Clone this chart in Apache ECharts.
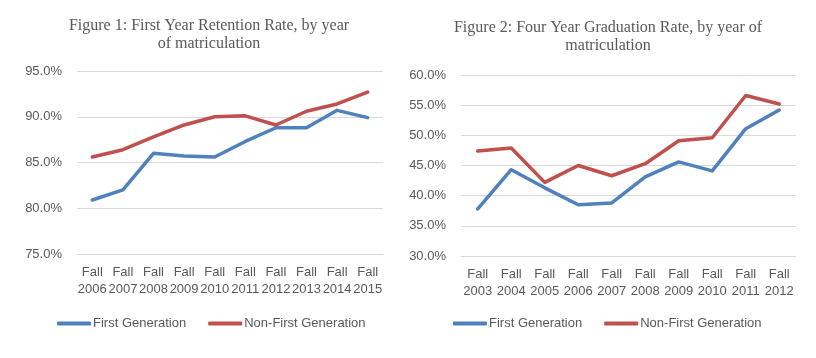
<!DOCTYPE html>
<html lang="en">
<head>
    <meta charset="UTF-8">
    <title>Retention and Graduation Rates</title>
    <script src="https://cdn.jsdelivr.net/npm/echarts@6/dist/echarts.min.js"></script>
</head>
<style>
    html, body { margin: 0; padding: 0; background: #fff; }
    #main { width: 816px; height: 358px; }
</style>
<body>
<div id="main"></div>
<script>
    var myChart = echarts.init(document.getElementById('main'));

    // Figure 1: first year retention
    var retentionYears = ['Fall\n2006', 'Fall\n2007', 'Fall\n2008', 'Fall\n2009', 'Fall\n2010',
                          'Fall\n2011', 'Fall\n2012', 'Fall\n2013', 'Fall\n2014', 'Fall\n2015'];
    var retentionFirstGen = [80.9, 82.0, 86.0, 85.7, 85.6, 87.3, 88.8, 88.8, 90.7, 89.9];
    var retentionNonFirstGen = [85.6, 86.4, 87.8, 89.1, 90.0, 90.1, 89.1, 90.6, 91.4, 92.7];

    // Figure 2: four year graduation
    var gradYears = ['Fall\n2003', 'Fall\n2004', 'Fall\n2005', 'Fall\n2006', 'Fall\n2007',
                     'Fall\n2008', 'Fall\n2009', 'Fall\n2010', 'Fall\n2011', 'Fall\n2012'];
    var gradFirstGen = [37.8, 44.3, 41.3, 38.5, 38.8, 43.1, 45.6, 44.1, 51.1, 54.2];
    var gradNonFirstGen = [47.4, 47.9, 42.2, 45.0, 43.3, 45.3, 49.1, 49.6, 56.6, 55.2];

    var blue = '#4f81bd';
    var red = '#c0504d';
    var grey = '#595959';
    var sans = 'Liberation Sans';

    function pct(v) {
        return v.toFixed(1) + '%';
    }

    function xAxisFor(idx, data) {
        return {
            type: 'category',
            gridIndex: idx,
            data: data,
            axisTick: { show: false },
            axisLine: { lineStyle: { color: '#d9d9d9' } },
            axisLabel: {
                interval: 0,
                color: grey,
                fontFamily: sans,
                fontSize: 13,
                lineHeight: 17,
                margin: 10
            }
        };
    }

    function yAxisFor(idx, min, max) {
        return {
            type: 'value',
            gridIndex: idx,
            min: min,
            max: max,
            interval: 5,
            axisLine: { show: false },
            axisTick: { show: false },
            splitLine: { lineStyle: { color: '#d9d9d9' } },
            axisLabel: {
                color: grey,
                fontFamily: sans,
                fontSize: 13,
                margin: 15,
                formatter: pct
            }
        };
    }

    function lineSeries(name, idx, data, color) {
        return {
            name: name,
            type: 'line',
            xAxisIndex: idx,
            yAxisIndex: idx,
            data: data,
            symbol: 'none',
            lineStyle: { color: color, width: 3.5, cap: 'round', join: 'round' },
            itemStyle: { color: color }
        };
    }

    function legendFor(left) {
        return {
            left: left,
            top: 317,
            padding: 0,
            icon: 'roundRect',
            itemWidth: 34,
            itemHeight: 4,
            itemGap: 22,
            textStyle: { color: grey, fontFamily: sans, fontSize: 13, padding: [0, 0, 0, -3] },
            data: ['First Generation', 'Non-First Generation']
        };
    }

    var titleStyle = {
        fill: grey,
        font: '16px "Liberation Serif"',
        textAlign: 'center',
        textVerticalAlign: 'top',
        lineHeight: 18
    };

    var option = {
        animation: false,
        backgroundColor: '#fff',
        graphic: [
            { type: 'text', x: 209, y: 17, style: Object.assign({ text: 'Figure 1: First Year Retention Rate, by year\nof matriculation' }, titleStyle) },
            { type: 'text', x: 608, y: 19, style: Object.assign({ text: 'Figure 2: Four Year Graduation Rate, by year of\nmatriculation' }, titleStyle) }
        ],
        legend: [
            Object.assign({ id: 'l1' }, legendFor(57)),
            Object.assign({ id: 'l2' }, legendFor(453))
        ],
        grid: [
            { left: 77, right: 433, top: 71, bottom: 104 },
            { left: 461, right: 20, top: 75, bottom: 102 }
        ],
        xAxis: [xAxisFor(0, retentionYears), xAxisFor(1, gradYears)],
        yAxis: [yAxisFor(0, 75, 95), yAxisFor(1, 30, 60)],
        series: [
            lineSeries('First Generation', 0, retentionFirstGen, blue),
            lineSeries('Non-First Generation', 0, retentionNonFirstGen, red),
            lineSeries('First Generation', 1, gradFirstGen, blue),
            lineSeries('Non-First Generation', 1, gradNonFirstGen, red)
        ]
    };
    myChart.setOption(option);
</script>
</body>
</html>
